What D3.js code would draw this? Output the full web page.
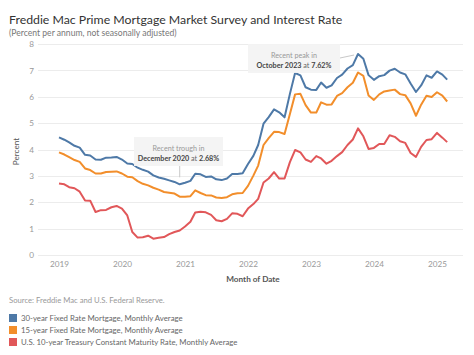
<!DOCTYPE html>
<html>
<head>
<meta charset="utf-8">
<script src="https://cdn.jsdelivr.net/npm/d3@7"></script>
<style>
  html, body { margin: 0; padding: 0; background: #fff; }
  svg { display: block; font-family: Lato, "Open Sans", sans-serif; }
</style>
</head>
<body>
<svg id="chart" width="474" height="355"></svg>
<script>
// ---- Data (monthly averages, Jan 2019 – Mar 2025) ----
const startMonth = "2019-01";
const mortgage30 = [
  4.46, 4.37, 4.27, 4.14, 4.07, 3.80, 3.77, 3.62, 3.61, 3.69, 3.70, 3.72,
  3.62, 3.47, 3.45, 3.31, 3.23, 3.16, 3.02, 2.94, 2.89, 2.83, 2.77, 2.68,
  2.74, 2.81, 3.08, 3.06, 2.96, 2.98, 2.87, 2.84, 2.90, 3.07, 3.07, 3.10,
  3.45, 3.76, 4.17, 4.98, 5.23, 5.52, 5.41, 5.22, 6.11, 6.90, 6.81, 6.36,
  6.27, 6.26, 6.54, 6.34, 6.43, 6.71, 6.84, 7.07, 7.20, 7.62, 7.44, 6.82,
  6.64, 6.78, 6.82, 6.99, 7.06, 6.92, 6.85, 6.50, 6.18, 6.43, 6.81, 6.72,
  6.96, 6.84, 6.65
];
const mortgage15 = [
  3.89, 3.81, 3.71, 3.60, 3.53, 3.28, 3.22, 3.09, 3.09, 3.15, 3.16, 3.17,
  3.09, 2.97, 2.95, 2.80, 2.70, 2.64, 2.55, 2.48, 2.39, 2.36, 2.33, 2.21,
  2.21, 2.23, 2.45, 2.35, 2.27, 2.26, 2.18, 2.16, 2.19, 2.30, 2.34, 2.35,
  2.62, 3.01, 3.39, 4.17, 4.43, 4.67, 4.66, 4.59, 5.35, 6.09, 6.11, 5.68,
  5.40, 5.40, 5.79, 5.70, 5.71, 6.03, 6.14, 6.36, 6.53, 6.92, 6.79, 6.05,
  5.88, 6.09, 6.20, 6.24, 6.27, 6.10, 6.06, 5.75, 5.28, 5.70, 6.04, 5.99,
  6.17, 6.04, 5.82
];
const treasury10 = [
  2.71, 2.68, 2.57, 2.53, 2.40, 2.07, 2.06, 1.63, 1.70, 1.71, 1.81, 1.86,
  1.76, 1.50, 0.87, 0.66, 0.67, 0.73, 0.62, 0.65, 0.68, 0.79, 0.87, 0.93,
  1.08, 1.26, 1.61, 1.64, 1.62, 1.52, 1.32, 1.28, 1.37, 1.58, 1.56, 1.47,
  1.76, 1.93, 2.13, 2.75, 2.90, 3.14, 2.90, 2.90, 3.52, 3.98, 3.89, 3.62,
  3.53, 3.75, 3.66, 3.46, 3.57, 3.75, 3.90, 4.17, 4.38, 4.80, 4.50, 4.02,
  4.06, 4.21, 4.21, 4.54, 4.48, 4.31, 4.25, 3.87, 3.72, 4.10, 4.36, 4.39,
  4.63, 4.45, 4.28
];
const seriesNames = [
  "30-year Fixed Rate Mortgage, Monthly Average",
  "15-year Fixed Rate Mortgage, Monthly Average",
  "U.S. 10-year Treasury Constant Maturity Rate, Monthly Average"
];
const seriesColors = ["#4e79a7", "#f28e2b", "#e15759"];
const yTicks = [0, 1, 2, 3, 4, 5, 6, 7, 8];
const xTickYears = [2019, 2020, 2021, 2022, 2023, 2024, 2025];
const troughNote = { month: "2020-12", line1: "Recent trough in", bold: "December 2020", tail: " at ", value: "2.68%" };
const peakNote = { month: "2023-10", line1: "Recent peak in", bold: "October 2023", tail: " at ", value: "7.62%" };

// ---- Build ----
const FONT = "Lato, 'Open Sans', sans-serif";
const parseMonth = d3.timeParse("%Y-%m");
const t0 = parseMonth(startMonth);
const months = d3.range(mortgage30.length).map(i => d3.timeMonth.offset(t0, i));
const allSeries = [mortgage30, mortgage15, treasury10].map((vals, k) => ({
  name: seriesNames[k], color: seriesColors[k],
  values: vals.map((v, i) => ({ date: months[i], value: v }))
}));

const svg = d3.select("#chart");
const plot = { left: 38, right: 463, top: 44, bottom: 255 };

const x = d3.scaleTime()
  .domain([new Date(2019, 0, 1), new Date(2025, 0, 1)])
  .range([59, 437]);
const y = d3.scaleLinear().domain([0, 8]).range([plot.bottom, plot.top]);

// Title
svg.append("text").attr("x", 9).attr("y", 24)
  .attr("font-size", 12.3).attr("fill", "#333")
  .text("Freddie Mac Prime Mortgage Market Survey and Interest Rate");
svg.append("text").attr("x", 9).attr("y", 36)
  .attr("font-size", 8.6).attr("fill", "#777")
  .text("(Percent per annum, not seasonally adjusted)");

// Gridlines
svg.append("g").selectAll("line").data(yTicks).join("line")
  .attr("x1", plot.left).attr("x2", plot.right)
  .attr("y1", d => Math.round(y(d)) + 0.5).attr("y2", d => Math.round(y(d)) + 0.5)
  .attr("stroke", "#ececec").attr("stroke-width", 1);

// Y axis
const yAxis = d3.axisLeft(y).tickValues(yTicks).tickSize(0).tickPadding(0).tickFormat(d3.format("d"));
const gy = svg.append("g").attr("transform", `translate(34,0)`).call(yAxis);
gy.select(".domain").remove();
gy.selectAll("text").attr("fill", "#999").attr("font-size", 8.2).attr("font-family", FONT);

svg.append("text")
  .attr("transform", `translate(19,${(plot.top + plot.bottom) / 2 + 2}) rotate(-90)`)
  .attr("text-anchor", "middle").attr("font-size", 8.2).attr("fill", "#555")
  .text("Percent");

// X axis
const xAxis = d3.axisBottom(x)
  .tickValues(xTickYears.map(yr => new Date(yr, 0, 1)))
  .tickSize(0).tickPadding(0).tickFormat(d3.timeFormat("%Y"));
const gx = svg.append("g").attr("transform", `translate(0,261)`).call(xAxis);
gx.select(".domain").remove();
gx.selectAll("text").attr("fill", "#999").attr("font-size", 8.2).attr("font-family", FONT);

svg.append("text").attr("x", 253).attr("y", 282)
  .attr("text-anchor", "middle").attr("font-size", 8.2).attr("font-weight", "bold")
  .attr("fill", "#555").text("Month of Date");

// Lines
const line = d3.line().x(d => x(d.date)).y(d => y(d.value));
svg.append("g").selectAll("path").data(allSeries).join("path")
  .attr("d", d => line(d.values))
  .attr("fill", "none").attr("stroke", d => d.color)
  .attr("stroke-width", 2).attr("stroke-linejoin", "round");

// Annotations
function annotate(note, box, leader) {
  const d = parseMonth(note.month);
  const idx = months.findIndex(m => +m === +d);
  const px = x(d), py = y(mortgage30[idx]);
  const g = svg.append("g");
  g.append("rect").attr("x", box.x).attr("y", box.y).attr("width", box.w).attr("height", box.h)
    .attr("fill", "#f3f3f3").attr("fill-opacity", 0.92);
  const cx = box.x + box.w / 2;
  g.append("text").attr("x", cx).attr("y", box.y + 13.5).attr("text-anchor", "middle")
    .attr("font-size", 7.2).attr("fill", "#999").text(note.line1);
  const t2 = g.append("text").attr("x", cx).attr("y", box.y + 23.5).attr("text-anchor", "middle")
    .attr("font-size", 7.2).attr("fill", "#444");
  t2.append("tspan").attr("font-weight", "bold").text(note.bold);
  t2.append("tspan").attr("fill", "#666").text(note.tail);
  t2.append("tspan").attr("font-weight", "bold").text(note.value);
  if (leader === "down") {
    g.append("line").attr("x1", px).attr("y1", box.y + box.h).attr("x2", px).attr("y2", py - 7)
      .attr("stroke", "#c8c8c8").attr("stroke-width", 1);
  } else {
    g.append("line").attr("x1", box.x + box.w).attr("y1", box.y + 14).attr("x2", px - 4).attr("y2", py + 1)
      .attr("stroke", "#c8c8c8").attr("stroke-width", 1);
  }
}
annotate(troughNote, { x: 134, y: 137, w: 89, h: 29 }, "down");
annotate(peakNote, { x: 248, y: 44, w: 92, h: 29 }, "side");

// Source
svg.append("text").attr("x", 9).attr("y", 303)
  .attr("font-size", 7.7).attr("fill", "#999")
  .text("Source: Freddie Mac and U.S. Federal Reserve.");

// Legend
const leg = svg.append("g").selectAll("g").data(allSeries).join("g")
  .attr("transform", (d, i) => `translate(9,${314 + i * 12})`);
leg.append("rect").attr("width", 8).attr("height", 8).attr("fill", d => d.color);
leg.append("text").attr("x", 12).attr("y", 7.3).attr("font-size", 7.8).attr("fill", "#666")
  .text(d => d.name);
</script>
</body>
</html>
